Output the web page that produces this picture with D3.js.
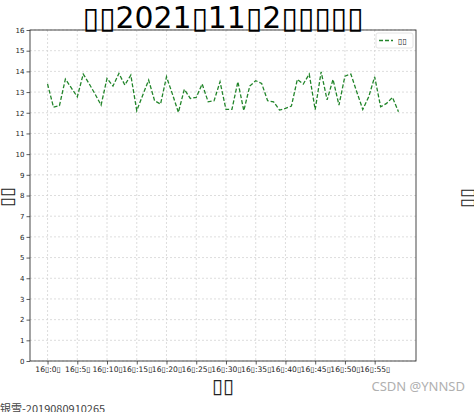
<!DOCTYPE html>
<html>
<head>
<meta charset="utf-8">
<script src="https://cdn.jsdelivr.net/npm/d3@7"></script>
<style>
    body { margin: 0; background: #fff; }
    svg { display: block; font-family: "DejaVu Sans", sans-serif; }
</style>
</head>
<body>
<svg id="chart" width="474" height="412"></svg>
<script>
// Missing CJK glyphs in the original render show as boxes
const TOFU = '\u25AF';

// minutes after 16:00
const minutes = d3.range(60);
const temps = [13.39, 12.27, 12.34, 13.63, 13.2, 12.77, 13.87, 13.4, 12.9, 12.37,
               13.66, 13.29, 13.9, 13.34, 13.82, 12.1, 12.85, 13.58, 12.58, 12.42,
               13.74, 12.9, 12.02, 13.13, 12.69, 12.74, 13.39, 12.53, 12.58, 13.5,
               12.16, 12.16, 13.5, 12.1, 13.29, 13.55, 13.42, 12.58, 12.53, 12.13,
               12.21, 12.32, 13.61, 13.39, 13.87, 12.15, 13.98, 12.62, 13.61, 12.37,
               13.77, 13.87, 13.0, 12.16, 12.77, 13.74, 12.29, 12.45, 12.74, 12.05];
const xTicks = d3.range(0, 60, 5);
const yTicks = d3.range(0, 17);
const xTickLabel = m => `16${TOFU}:${m}${TOFU}`;

const titleText = `${TOFU}${TOFU}2021${TOFU}11${TOFU}2${TOFU.repeat(5)}`;
const xLabel = TOFU + TOFU, yLabel = TOFU + TOFU, legendLabel = TOFU + TOFU;

let svg = d3.select('#chart');
let margin = {'top': 30, 'left': 30, 'right': 58, 'bottom': 51};
let width = 474 - margin.left - margin.right;
let height = 412 - margin.top - margin.bottom;

let chart = svg.append('g')
    .attr('transform', `translate(${margin.left}, ${margin.top})`);

// scales, with matplotlib's 5% margin on x
let x = d3.scaleLinear().domain([-2.95, 61.95]).range([0, width]);
let y = d3.scaleLinear().domain([0, 16]).range([height, 0]);

// grid
let grid = chart.append('g')
    .attr('stroke', '#d4d4d4').attr('stroke-width', 0.8)
    .attr('stroke-dasharray', '2,2');
grid.selectAll('line.gx').data(xTicks).enter().append('line')
    .attr('x1', d => x(d)).attr('x2', d => x(d))
    .attr('y1', 0).attr('y2', height);
grid.selectAll('line.gy').data(yTicks).enter().append('line')
    .attr('x1', 0).attr('x2', width)
    .attr('y1', d => y(d)).attr('y2', d => y(d));

// axes
let xAxis = d3.axisBottom(x).tickValues(xTicks).tickFormat(xTickLabel)
    .tickSize(3.5).tickPadding(2);
let yAxis = d3.axisLeft(y).tickValues(yTicks).tickSize(3.5).tickPadding(2);
let gx = chart.append('g')
    .attr('transform', `translate(0, ${height})`).call(xAxis);
let gy = chart.append('g').call(yAxis);
for (let g of [gx, gy]) {
    g.select('.domain').remove();
    g.selectAll('text').attr('font-size', 7).attr('fill', '#222')
        .attr('font-family', '"DejaVu Sans", sans-serif');
    g.selectAll('line').attr('stroke', '#333').attr('stroke-width', 0.8);
}
gx.selectAll('text').attr('font-size', 7.6);

// frame
chart.append('rect')
    .attr('width', width).attr('height', height)
    .attr('fill', 'none').attr('stroke', '#333').attr('stroke-width', 0.9);

// the line
let lineGen = d3.line()
    .x((d, i) => x(minutes[i]))
    .y(d => y(d));
chart.append('path')
    .datum(temps)
    .attr('fill', 'none')
    .attr('stroke', '#22852a')
    .attr('stroke-width', 1.3)
    .attr('stroke-dasharray', '4,2')
    .attr('d', lineGen);

// legend
let legend = chart.append('g')
    .attr('transform', `translate(${width - 40}, 3)`);
legend.append('rect')
    .attr('width', 37).attr('height', 15).attr('rx', 2)
    .attr('fill', '#fff').attr('stroke', '#ddd').attr('stroke-width', 0.8);
legend.append('line')
    .attr('x1', 3).attr('x2', 17).attr('y1', 7.5).attr('y2', 7.5)
    .attr('stroke', '#22852a').attr('stroke-width', 1.3)
    .attr('stroke-dasharray', '4,2');
legend.append('text')
    .attr('x', 22).attr('y', 10.5)
    .attr('font-size', 8).attr('fill', '#222')
    .text(legendLabel);

// title and axis labels
svg.append('text')
    .attr('x', margin.left + width / 2).attr('y', 28)
    .attr('text-anchor', 'middle')
    .attr('font-size', 30)
    .attr('textLength', 281).attr('lengthAdjust', 'spacingAndGlyphs')
    .text(titleText);
svg.append('text')
    .attr('x', margin.left + width / 2).attr('y', 393)
    .attr('text-anchor', 'middle')
    .attr('font-size', 20).attr('fill', '#222')
    .text(xLabel);
svg.append('text')
    .attr('transform', `translate(13, 197) rotate(-90)`)
    .attr('text-anchor', 'middle')
    .attr('font-size', 18).attr('fill', '#222')
    .text(yLabel);
svg.append('text')
    .attr('transform', `translate(473, 198) rotate(-90)`)
    .attr('text-anchor', 'middle')
    .attr('font-size', 18).attr('fill', '#222')
    .text(yLabel);

// bottom notes
svg.append('text')
    .attr('x', 0).attr('y', 413)
    .attr('font-family', '"Noto Sans CJK SC", sans-serif')
    .attr('font-size', 11).attr('fill', '#444')
    .text('银雪-2019080910265');
svg.append('text')
    .attr('x', 465).attr('y', 391)
    .attr('text-anchor', 'end')
    .attr('font-family', '"Noto Sans", sans-serif')
    .attr('font-size', 13).attr('fill', '#b0b0b0')
    .text('CSDN @YNNSD');
</script>
</body>
</html>
